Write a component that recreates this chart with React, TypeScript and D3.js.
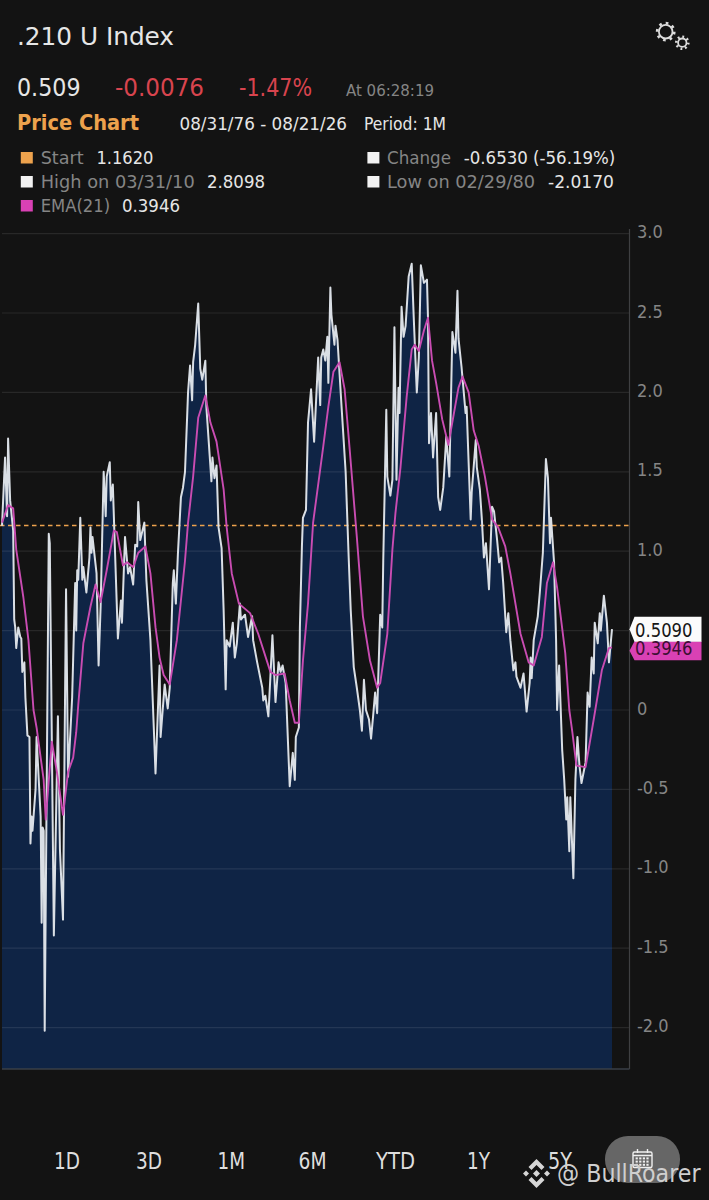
import React from 'react';
import * as d3 from 'd3';

// months since 08/31/76, paired with the index value
const priceMonths = [
  0, 3, 5, 6, 8, 11, 12, 13, 14, 16, 18, 19, 20, 22, 23, 25, 27, 28, 29, 30, 33, 34, 38, 39, 40, 41, 42, 46, 47, 51,
  55, 57, 60, 63, 65, 69, 72, 73, 74, 75, 77, 79, 80, 83, 86, 87, 88, 89, 93, 95, 97, 100, 102, 103, 106, 107, 109, 111, 114, 117,
  118, 121, 124, 126, 129, 131, 133, 134, 136, 140, 142, 146, 149, 151, 155, 156, 160, 163, 165, 168, 169, 171, 173, 176, 178, 180, 182, 183, 185, 187,
  188, 190, 193, 195, 197, 200, 201, 206, 207, 209, 211, 213, 216, 218, 220, 221, 224, 227, 229, 231, 234, 235, 239, 242, 246, 247, 251, 256, 257, 259,
  262, 264, 266, 269, 272, 274, 276, 279, 283, 286, 288, 289, 292, 293, 295, 296, 299, 301, 304, 307, 311, 313, 314, 316, 318, 320, 321, 323, 324, 327,
  328, 330, 334, 338, 341, 343, 346, 349, 352, 354, 356, 358, 361, 363, 365, 367, 369, 372, 374, 375, 376, 378, 379, 382, 384, 386, 388, 390, 391, 393,
  395, 397, 400, 403, 405, 408, 410, 412, 415, 418, 419, 420, 422, 424, 427, 429, 431, 434, 437, 440, 443, 446, 448, 449, 452, 456, 457, 461, 462, 466,
  467, 470, 472, 474, 476, 479, 482, 484, 487, 489, 491, 493, 496, 498, 500, 503, 505, 506, 510, 513, 516, 519, 520, 521, 523, 527, 529, 532, 535, 537,
  539, 540, 543, 545, 546, 548, 551, 553, 555, 556, 558, 559, 562, 564, 566, 568, 570, 574, 576, 578, 580, 582, 583, 586, 588, 589, 592, 595, 597, 600,
];
const priceValues = [
  1.16, 1.59, 1.22, 1.71, 1.32, 1.13, 0.57, 0.52, 0.39, 0.52, 0.46, 0.45, 0.24, 0.3, 0.08, -0.16, -0.17, -0.84, -0.67, -0.76, -0.5, -0.17, -0.67, -1.34, -0.74, -0.76, -2.02, 1.11, 1.05, -1.42,
  -0.04, -0.88, -1.32, 0.76, -0.42, 0.08, 0.8, 0.5, 0.88, 0.82, 1.21, 0.82, 0.9, 0.74, 0.96, 1.15, 0.99, 1.09, 0.86, 0.28, 0.65, 1.5, 1.22, 1.47, 1.56, 1.32, 1.42, 1.03, 0.45, 0.69,
  0.55, 1.09, 0.86, 0.9, 0.79, 1.04, 1.03, 1.31, 1.07, 1.18, 0.82, 0.44, -0.06, -0.4, 0.28, -0.17, 0.16, 0.01, 0.14, 0.8, 0.88, 0.67, 0.98, 1.34, 1.4, 1.5, 1.83, 2.0, 2.17, 1.95,
  2.19, 2.3, 2.56, 2.15, 2.08, 2.2, 1.91, 1.44, 1.59, 1.46, 1.54, 1.15, 1.02, 0.63, 0.13, 0.44, 0.4, 0.55, 0.33, 0.42, 0.67, 0.57, 0.6, 0.46, 0.59, 0.44, 0.3, 0.14, 0.06, 0.09,
  -0.04, 0.21, 0.47, 0.05, 0.3, 0.24, 0.28, 0.17, -0.48, -0.27, -0.44, -0.17, -0.11, 0.52, 1.03, 1.21, 1.26, 1.81, 2.02, 1.69, 2.22, 1.92, 2.22, 2.27, 2.2, 2.35, 2.06, 2.66, 2.49, 2.3,
  2.42, 2.33, 1.91, 1.5, 0.96, 0.63, 0.27, 0.14, 0, -0.13, 0.19, 0, -0.06, -0.18, -0.04, 0.11, -0.02, 0.6, 0.52, 0.94, 1.26, 1.89, 1.47, 1.35, 1.45, 2.41, 1.45, 2.03, 1.87, 2.54,
  2.35, 2.42, 2.73, 2.81, 2.47, 2.0, 2.22, 2.8, 2.69, 2.71, 2.47, 1.68, 1.87, 1.59, 1.87, 1.34, 1.26, 1.4, 1.72, 1.47, 2.38, 2.25, 2.64, 2.34, 2.16, 1.87, 1.91, 1.2, 1.37, 1.7,
  1.53, 1.39, 1.2, 0.96, 1.05, 0.76, 1.28, 1.25, 1.07, 0.93, 0.96, 0.8, 0.49, 0.61, 0.44, 0.25, 0.3, 0.21, 0.14, 0.23, -0.01, 0.17, 0.33, 0.2, 0.44, 0.59, 0.74, 0.99, 1.58, 1.46,
  1.05, 1.21, 0.93, 0.44, 0, 0.28, -0.25, -0.44, -0.69, -0.55, -0.89, -0.55, -1.06, -0.44, -0.17, -0.35, -0.46, -0.33, 0.11, 0.02, 0.33, 0.23, 0.55, 0.42, 0.61, 0.5, 0.72, 0.55, 0.3, 0.509,
];
const emaMonths = [
  0, 6, 11, 14, 21, 26, 31, 34, 41, 43, 49, 54, 60, 65, 70, 73, 75, 80, 87, 92, 97, 103, 110, 113, 119, 123, 129, 134, 141, 146,
  151, 155, 159, 165, 172, 180, 183, 188, 193, 200, 205, 211, 218, 221, 226, 233, 244, 252, 264, 269, 278, 283, 288, 292, 296, 301, 306, 316, 321, 326,
  332, 337, 342, 349, 355, 362, 369, 372, 379, 384, 387, 392, 398, 403, 406, 410, 415, 419, 423, 427, 433, 439, 444, 449, 453, 459, 464, 469, 475, 482,
  488, 495, 500, 510, 518, 523, 531, 536, 542, 546, 554, 558, 561, 565, 574, 582, 590, 597, 600,
];
const emaValues = [
  1.18, 1.29, 1.27, 1.01, 0.71, 0.44, 0, -0.11, -0.44, -0.69, -0.2, -0.39, -0.66, -0.39, -0.3, -0.14, 0.03, 0.42, 0.65, 0.79, 0.68, 0.88, 1.13, 1.12, 0.91, 0.93, 0.9, 0.99, 1.03, 0.86,
  0.52, 0.33, 0.22, 0.16, 0.44, 0.94, 1.18, 1.47, 1.84, 1.98, 1.81, 1.69, 1.39, 1.15, 0.86, 0.67, 0.61, 0.48, 0.24, 0.22, 0.23, 0.06, -0.08, -0.08, 0.31, 0.67, 1.18, 1.66, 1.91, 2.13,
  2.19, 2.02, 1.64, 1.09, 0.59, 0.31, 0.14, 0.17, 0.48, 1.01, 1.24, 1.53, 1.97, 2.27, 2.3, 2.26, 2.39, 2.47, 2.2, 2.06, 1.83, 1.67, 1.85, 2.03, 2.1, 2.0, 1.76, 1.66, 1.47, 1.2,
  1.15, 1.03, 0.86, 0.48, 0.3, 0.28, 0.46, 0.8, 0.93, 0.77, 0.36, 0, -0.14, -0.35, -0.36, -0.06, 0.25, 0.39, 0.3946,
];
const yTicks = [3, 2.5, 2, 1.5, 1, 0.5, 0, -0.5, -1, -1.5, -2];
const startLevel = 1.162;
const lastPrice = 0.509;
const lastEma = 0.3946;
const rangeTabs = [
  { label: '1D', x: 54, w: 26 },
  { label: '3D', x: 136, w: 26 },
  { label: '1M', x: 217.5, w: 27.5 },
  { label: '6M', x: 298.5, w: 28 },
  { label: 'YTD', x: 376, w: 39 },
  { label: '1Y', x: 467, w: 23 },
  { label: '5Y', x: 548, w: 24 },
];

const BG = '#131313';
const GREY = '#858585';
const WHITE = '#e6e6e6';
const RED = '#d8444e';
const ORANGE = '#eda24d';
const MAGENTA = '#d941b4';
const FONT = '"DejaVu Sans Condensed", "DejaVu Sans", sans-serif';

// text squeezed to the width measured on the reference
const Label = ({ x, y, w, size, fill = WHITE, weight = 400, children }: any) => (
  <text
    x={x}
    y={y}
    fontSize={size}
    fill={fill}
    fontWeight={weight}
    fontFamily={FONT}
    textLength={w}
    lengthAdjust="spacingAndGlyphs">
    {children}
  </text>
);

const Swatch = ({ x, y, fill = '#f2f2f2' }: any) => <rect x={x} y={y} width={12} height={11.5} fill={fill} />;

const Gear = ({ cx, cy, r }: any) => (
  <g fill="none" stroke="#dcdcdc">
    <circle cx={cx} cy={cy} r={r} strokeWidth={1.8} />
    <circle cx={cx} cy={cy} r={r + 1.8} strokeWidth={2.6} pathLength={16} strokeDasharray="0.8 1.2" />
  </g>
);

const App = () => {
  const x = d3.scaleLinear().domain([0, 600]).range([2, 612]);
  const y = d3.scaleLinear().domain([0, 3]).range([710, 233.6]);
  const plotBottom = 1069;
  const axisX = 629.5;

  const price = priceMonths.map((m, i) => [m, priceValues[i]] as [number, number]);
  const ema = emaMonths.map((m, i) => [m, emaValues[i]] as [number, number]);

  const priceLine = d3.line().x(d => x(d[0])).y(d => y(d[1]));
  const priceArea = d3.area().x(d => x(d[0])).y0(plotBottom).y1(d => y(d[1]));

  const tagPath = (top: number, bottom: number) => {
    const mid = (top + bottom) / 2;
    return `M${axisX} ${mid}L${axisX + 5} ${top}H701.5V${bottom}H${axisX + 5}Z`;
  };

  return (
    <svg
      width={709}
      height={1200}
      viewBox="0 0 709 1200"
      style={{ position: 'absolute', left: 0, top: 0, display: 'block', background: BG }}>
      <Label x={17} y={45} w={157} size={25} weight={500}>.210 U Index</Label>
      <Gear cx={665.7} cy={31.7} r={6.8} />
      <Gear cx={682.3} cy={42.7} r={4.2} />

      <Label x={17} y={96} w={63.5} size={24}>0.509</Label>
      <Label x={115} y={96} w={89} size={24} fill={RED}>-0.0076</Label>
      <Label x={239} y={96} w={73} size={24} fill={RED}>-1.47%</Label>
      <Label x={346} y={96} w={88} size={16.5} fill={GREY}>At 06:28:19</Label>

      <Label x={17} y={130} w={122} size={21} fill={ORANGE} weight={700}>Price Chart</Label>
      <Label x={179.5} y={130} w={167.5} size={17}>08/31/76 - 08/21/26</Label>
      <Label x={364} y={130} w={82} size={17}>Period: 1M</Label>

      <Swatch x={20.8} y={152} fill={ORANGE} />
      <Label x={40.7} y={163.5} w={43} size={18} fill={GREY}>Start</Label>
      <Label x={96.4} y={163.5} w={57} size={18}>1.1620</Label>
      <Swatch x={20.8} y={176} />
      <Label x={40.7} y={187.5} w={154} size={18} fill={GREY}>High on 03/31/10</Label>
      <Label x={207} y={187.5} w={58} size={18}>2.8098</Label>
      <Swatch x={20.8} y={200} fill={MAGENTA} />
      <Label x={40.7} y={211.5} w={69.5} size={18} fill={GREY}>EMA(21)</Label>
      <Label x={122} y={211.5} w={58} size={18}>0.3946</Label>
      <Swatch x={367.4} y={152} />
      <Label x={387} y={163.5} w={64} size={18} fill={GREY}>Change</Label>
      <Label x={463.8} y={163.5} w={151.5} size={18}>-0.6530 (-56.19%)</Label>
      <Swatch x={367.4} y={176} />
      <Label x={387} y={187.5} w={148} size={18} fill={GREY}>Low on 02/29/80</Label>
      <Label x={548} y={187.5} w={66} size={18}>-2.0170</Label>

      <path d={priceArea(price as any) as string} fill="#0f2445" />

      {yTicks.map(t => (
        <line key={t} x1={2} x2={axisX} y1={y(t)} y2={y(t)} stroke="#fff" strokeOpacity={0.09} strokeWidth={1.2} />
      ))}
      <line x1={axisX} x2={axisX} y1={229} y2={plotBottom} stroke="#3f4042" strokeWidth={1.2} />
      <line x1={2} x2={axisX} y1={plotBottom} y2={plotBottom} stroke="#3a3f47" strokeWidth={1.4} />

      {yTicks.map(t => (
        <text key={t} x={637} y={y(t) + 4.5} fontSize={18} fill={GREY} fontFamily={FONT}>
          {t === 0 ? '0' : t.toFixed(1)}
        </text>
      ))}

      <line
        x1={0}
        x2={axisX}
        y1={y(startLevel)}
        y2={y(startLevel)}
        stroke={ORANGE}
        strokeWidth={1.6}
        strokeDasharray="4.5 3.5"
      />

      <path d={priceLine(price as any) as string} fill="none" stroke="#dadfe5" strokeWidth={2} strokeLinejoin="round" />
      <path d={priceLine(ema as any) as string} fill="none" stroke="#c94cb2" strokeWidth={1.9} strokeLinejoin="round" />

      <path d={tagPath(y(lastEma) - 6, y(lastEma) + 13)} fill={MAGENTA} />
      <path d={tagPath(y(lastPrice) - 12.5, y(lastPrice) + 12.5)} fill="#fbfbfb" />
      <Label x={635} y={636.5} w={57.5} size={20} fill="#161616">0.5090</Label>
      <Label x={635} y={655} w={57.5} size={20} fill="#3d0f33">0.3946</Label>

      {rangeTabs.map(t => (
        <Label key={t.label} x={t.x} y={1169} w={t.w} size={23} fill="#dedede">{t.label}</Label>
      ))}

      <rect x={605} y={1136} width={75} height={47} rx={23} fill="#666" />
      <g stroke="#efefef" strokeWidth={1.4} fill="none">
        <rect x={633} y={1152} width={19} height={15.5} rx={1.5} />
        <path d="M637.5 1149V1153M647.500 1149V1153M633 1155.500H652" />
      </g>
      <g fill="#efefef">
        {d3.range(3).flatMap(row =>
          d3.range(4).map(col => (
            <rect key={`${row}-${col}`} x={635.6 + col * 3.6} y={1157.4 + row * 3.2} width={2.2} height={2} />
          ))
        )}
      </g>

      <g fill="none" stroke="#d6d6d6" strokeWidth={4.2}>
        <path d="M530 1168.500l6.500-6.500 6.500 6.500" />
        <path d="M530 1178.500l6.500 6.500 6.500-6.500" />
      </g>
      <g fill="#d6d6d6">
        <path d="M536.500 1170l3.500 3.500-3.500 3.500-3.500-3.500Z" />
        <path d="M526 1170.500l3 3-3 3-3-3Z" />
        <path d="M547 1170.500l3 3-3 3-3-3Z" />
      </g>
      <Label x={557} y={1182} w={143.5} size={25} fill="#cfcfcf">@ BullRoarer</Label>
    </svg>
  );
};

export default App;
